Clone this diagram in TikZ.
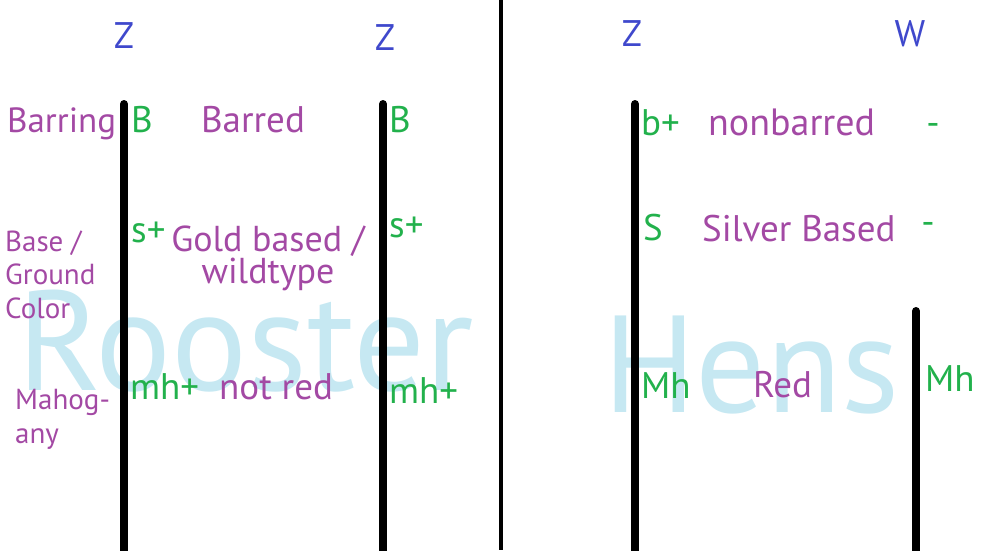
\documentclass[tikz,border=0pt]{standalone}
\usepackage{fontspec}
\setmainfont{PT Sans}
\usepackage{xcolor}
\usetikzlibrary{positioning}
\definecolor{traitpurple}{HTML}{A349A4}
\definecolor{genegreen}{HTML}{22B14C}
\definecolor{chromblue}{HTML}{3F48CC}
\definecolor{markblue}{HTML}{C6E8F2}

\begin{document}
\begin{tikzpicture}[x=1pt,y=-1pt,
	chrom/.style={line width=8pt,line cap=round},
	sexlabel/.style={text=chromblue,font=\fontsize{37}{37}\selectfont,inner sep=0pt,anchor=base},
	gene/.style={text=genegreen,font=\fontsize{37}{37}\selectfont,inner sep=0pt,anchor=base west},
	trait/.style={text=traitpurple,font=\fontsize{37}{37}\selectfont,inner sep=0pt,anchor=base west},
	rowname/.style={text=traitpurple,font=\fontsize{29}{33.5}\selectfont,inner sep=0pt,anchor=base west,align=left},
	watermark/.style={text=markblue,font=\fontsize{142}{142}\selectfont,inner sep=0pt,anchor=base west}]
		\useasboundingbox (0,0) rectangle (1006,550);
		% big background words
		\node[watermark] (rooster) at (17,390) {Rooster};
		\node[watermark,font=\fontsize{138}{138}\selectfont] (hens) at (603,412) {Hens};
		% divider and chromosomes
		\draw[line width=4pt] (501,0) -- (501,550);
		\draw[chrom] (124,104) -- (124,560);
		\draw[chrom] (383,104) -- (383,560);
		\draw[chrom] (635,104) -- (635,560);
		\draw[chrom] (916,311) -- (916,560);
		% sex chromosomes
		\node[sexlabel] (z1) at (124,48) {Z};
		\node[sexlabel] (z2) at (385,50) {Z};
		\node[sexlabel] (z3) at (632,46) {Z};
		\node[sexlabel] (w1) at (910,46) {W};
		% row names
		\node[trait,font=\fontsize{35}{35}\selectfont] (barring) at (7,132) {Barring};
		\node[rowname] (base) at (5,318) {Base /\\Ground\\Color};
		\node[rowname] (mahog) at (15,443) {Mahog-\\any};
		% rooster alleles
		\node[gene] (b1) at (131,132) {B};
		\node[gene] (b2) at (389,132) {B};
		\node[gene] (s1) at (131,242) {s+};
		\node[gene] (s2) at (389,237) {s+};
		\node[gene] (mh1) at (130,399) {mh+};
		\node[gene] (mh2) at (389,403) {mh+};
		\node[trait,anchor=base] (barred) at (253,132) {Barred};
		\node[trait,anchor=base,align=center,font=\fontsize{36}{30}\selectfont] (gold) at (268,283) {Gold based /\\wildtype};
		\node[trait] (notred) at (219,399) {not red};
		% hen alleles
		\node[gene] (b3) at (641,135) {b+};
		\node[trait,font=\fontsize{38}{38}\selectfont] (nonbarred) at (708,135) {nonbarred};
		\node[gene,anchor=base] (dash1) at (933,135) {-};
		\node[gene] (s3) at (643,240) {S};
		\node[trait] (silver) at (702,241) {Silver Based};
		\node[gene,anchor=base] (dash2) at (928,234) {-};
		\node[gene] (mh3) at (641,398) {Mh};
		\node[trait] (red) at (753,397) {Red};
		\node[gene] (mh4) at (925,391) {Mh};
	\end{tikzpicture}
\end{document}
